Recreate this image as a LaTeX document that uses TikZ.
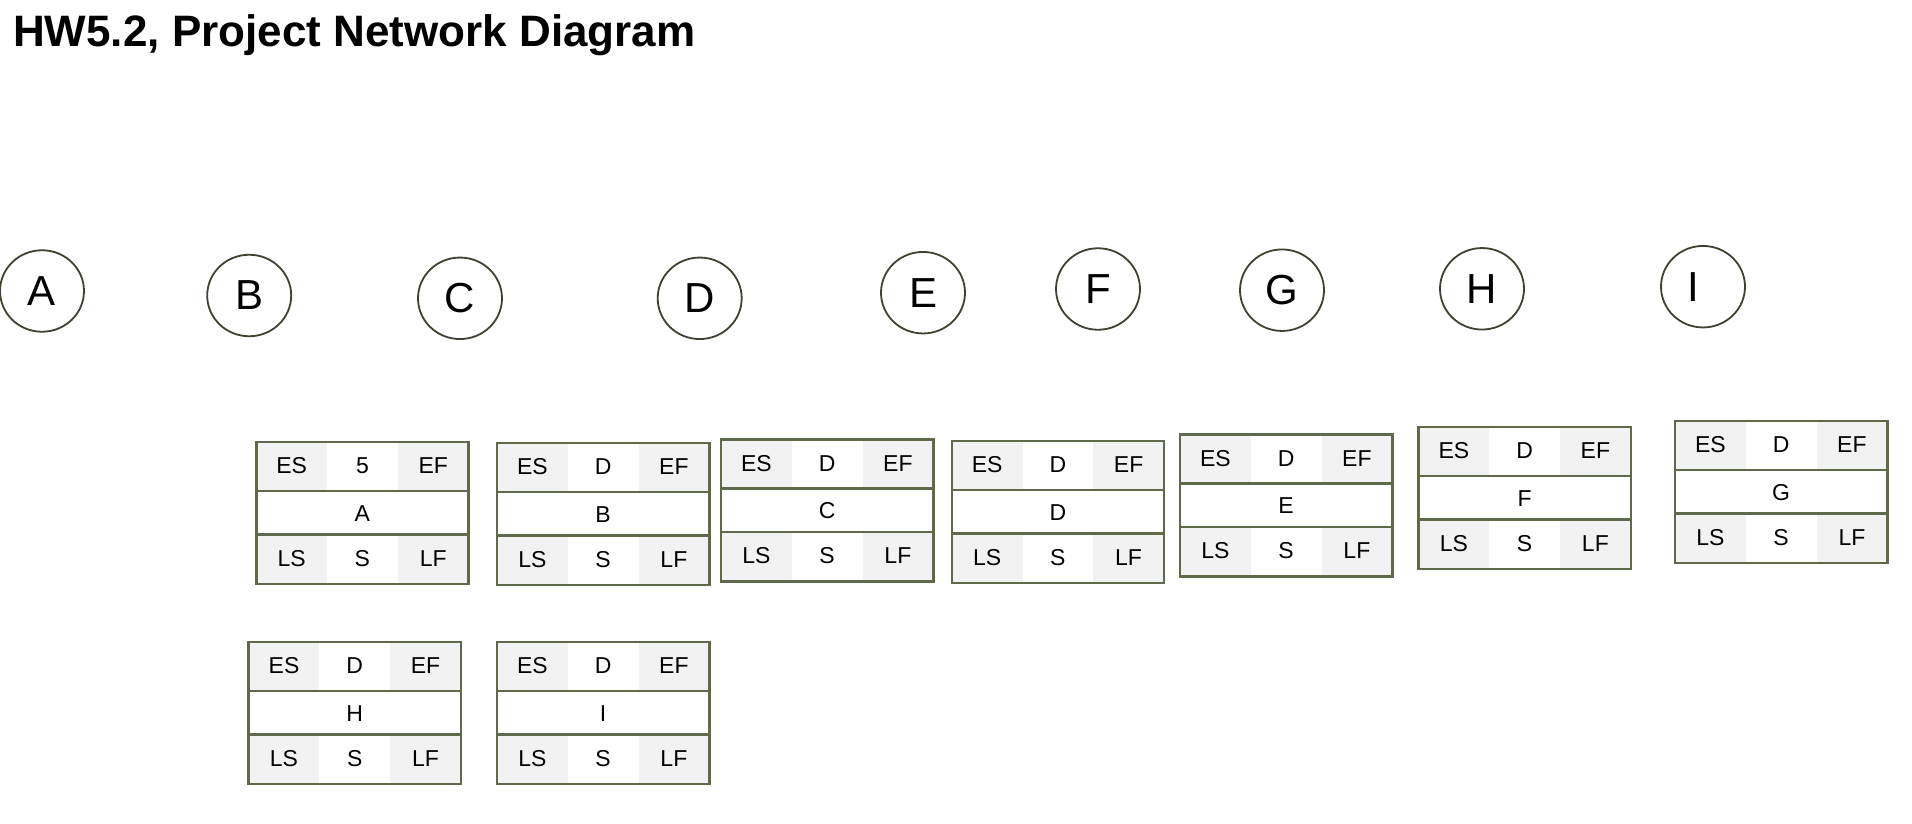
\documentclass[tikz,border=0pt]{standalone}
\usepackage{fontspec}
\setmainfont{Liberation Sans}
\usetikzlibrary{shapes.geometric}
\definecolor{cellgray}{HTML}{F2F2F2}
\definecolor{boxline}{HTML}{5F6A4A}
\definecolor{ringline}{HTML}{3E4230}
\tikzset{
  boxrule/.style={draw=boxline, line width=2.4pt},
  boxtxt/.style={anchor=base, inner sep=0pt, font=\fontsize{23}{26}\selectfont},
  ring/.style={ellipse, draw=ringline, line width=1.8pt, minimum width=84pt, minimum height=81.5pt, inner sep=0pt, font=\fontsize{42}{46}\selectfont},
  titletxt/.style={anchor=base west, inner sep=0pt, font=\fontsize{44}{50}\selectfont\bfseries}
}
\newcommand\actbox[5]{%
\begin{scope}[shift={(#2,#3)}]
 \fill[cellgray] (0,0) rectangle (70.8,49.3);
 \fill[cellgray] (141.5,0) rectangle (212.3,49.3);
 \fill[cellgray] (0,92.8) rectangle (70.8,142);
 \fill[cellgray] (141.5,92.8) rectangle (212.3,142);
 \draw[boxrule] (0,49.3) -- (212.3,49.3);
 \draw[boxrule] (0,92.8) -- (212.3,92.8);
 \node[boxtxt] (#1es) at (35.4,32) {ES};
 \node[boxtxt] (#1d) at (106.1,32) {#4};
 \node[boxtxt] (#1ef) at (176.9,32) {EF};
 \node[boxtxt] (#1name) at (106.1,79.5) {#5};
 \node[boxtxt] (#1ls) at (35.4,124.5) {LS};
 \node[boxtxt] (#1s) at (106.1,124.5) {S};
 \node[boxtxt] (#1lf) at (176.9,124.5) {LF};
 \draw[boxrule] (0,0) rectangle (212.3,142);
\end{scope}}
\begin{document}
\begin{tikzpicture}[x=1pt,y=-1pt]
\useasboundingbox (0,0) rectangle (1912,824);
\fill[white] (0,0) rectangle (1912,824);
\node[titletxt] (title) at (13,46.7) {HW5.2, Project Network Diagram};
\node[ring] (cA) at (42,291) {A};
\node[ring] (cB) at (249.2,295.5) {B};
\node[ring] (cC) at (460,298.3) {C};
\node[ring] (cD) at (699.7,298.3) {D};
\node[ring] (cE) at (923,292.7) {E};
\node[ring] (cF) at (1098,289) {F};
\node[ring] (cG) at (1282,290.2) {G};
\node[ring] (cH) at (1482,288.8) {H};
\node[ring] (cI) at (1703,286.7) {I\kern20pt\null};
\actbox{bA}{256.3}{441.7}{5}{A}
\actbox{bB}{497}{442.7}{D}{B}
\actbox{bC}{721}{439.3}{D}{C}
\actbox{bD}{951.7}{440.7}{D}{D}
\actbox{bE}{1180}{434.3}{D}{E}
\actbox{bF}{1418.5}{426.7}{D}{F}
\actbox{bG}{1675}{420.7}{D}{G}
\actbox{bH}{248.6}{641.7}{D}{H}
\actbox{bI}{497}{641.7}{D}{I}
\end{tikzpicture}
\end{document}
